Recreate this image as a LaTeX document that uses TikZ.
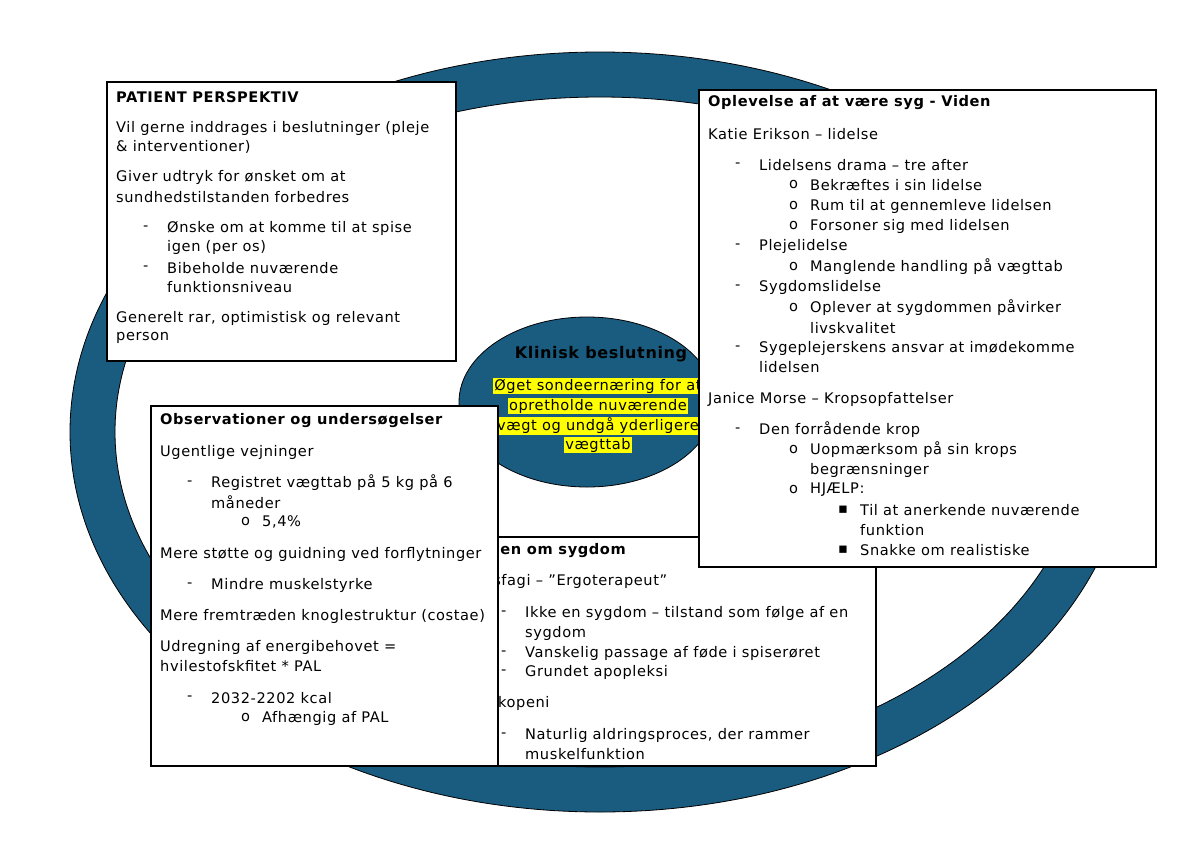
\documentclass[tikz,border=0pt]{standalone}
\usepackage{fontspec}
\setmainfont{DejaVu Sans}[LetterSpace=4]
\definecolor{ringblue}{RGB}{26,92,128}
\definecolor{hl}{RGB}{255,255,0}
\tikzset{
  t/.style={anchor=west,inner sep=0pt,font=\fontsize{14.6}{17}\selectfont},
  tb/.style={t,font=\fontsize{14.6}{17}\selectfont\bfseries},
  box/.style={draw=black,line width=1.6pt,fill=white},
  hlt/.style={fill=hl,inner sep=1pt,font=\fontsize{14.6}{17}\selectfont,anchor=center}
}
\newcommand{\Ln}[3]{\node[t] at (#1,#2) {#3};}
\newcommand{\Dh}[3]{\node[t] at (#1,#2) {-}; \node[t] at (#1+24,#2) {#3};}
\newcommand{\Oh}[3]{\node[t] at (#1,#2) {o}; \node[t] at (#1+21,#2) {#3};}
\newcommand{\Sq}[3]{\node[t] at (#1,#2) {▪}; \node[t] at (#1+22,#2) {#3};}
\begin{document}
\begin{tikzpicture}[x=1pt,y=-1pt]
\useasboundingbox (0,0) rectangle (1200,849);
% ring
\fill[ringblue,draw=black,line width=0.8pt,even odd rule] (600,432) ellipse [x radius=530,y radius=380] (600,432) ellipse [x radius=485,y radius=335];
% central ellipse
\fill[ringblue,draw=black,line width=0.8pt] (587,402) ellipse [x radius=128,y radius=85];
\node[tb,anchor=center,font=\fontsize{16}{18}\selectfont\bfseries] (kb) at (601,354) {Klinisk beslutning};
\node[hlt] (h1) at (598,386) {Øget sondeernæring for at};
\node[hlt] (h2) at (598,406) {opretholde nuværende};
\node[hlt] (h3) at (598,426) {vægt og undgå yderligere};
\node[hlt] (h4) at (598,445) {vægttab};
% bottom box
\node[box,minimum width=409,minimum height=229,anchor=north west,inner sep=0pt] (vb) at (466,536) {};
\node[tb] at (472,551) {Viden om sygdom};
\Ln{472}{581}{Dysfagi – ”Ergoterapeut”}
\Dh{501}{613}{Ikke en sygdom – tilstand som følge af en}
\Ln{525}{633}{sygdom}
\Dh{501}{653}{Vanskelig passage af føde i spiserøret}
\Dh{501}{672}{Grundet apopleksi}
\Ln{472}{703}{Sarkopeni}
\Dh{501}{735}{Naturlig aldringsproces, der rammer}
\Ln{525}{754}{muskelfunktion}
% observation box
\node[box,minimum width=347,minimum height=360,anchor=north west,inner sep=0pt] (ob) at (150,405) {};
\node[tb] at (160,421) {Observationer og undersøgelser};
\Ln{160}{452}{Ugentlige vejninger}
\Dh{187}{483}{Registret vægttab på 5 kg på 6}
\Ln{211}{502}{måneder}
\Oh{241}{522}{5,4\%}
\Ln{160}{554}{Mere støtte og guidning ved forflytninger}
\Dh{187}{585}{Mindre muskelstyrke}
\Ln{160}{616}{Mere fremtræden knoglestruktur (costae)}
\Ln{160}{647}{Udregning af energibehovet =}
\Ln{160}{666}{hvilestofskfitet * PAL}
\Dh{187}{698}{2032-2202 kcal}
\Oh{241}{718}{Afhængig af PAL}
% patient box
\node[box,minimum width=349,minimum height=279,anchor=north west,inner sep=0pt] (pb) at (106,81) {};
\node[tb] at (116,97) {PATIENT PERSPEKTIV};
\Ln{116}{128}{Vil gerne inddrages i beslutninger (pleje}
\Ln{116}{147}{\& interventioner)}
\Ln{116}{177}{Giver udtryk for ønsket om at}
\Ln{116}{197}{sundhedstilstanden forbedres}
\Dh{143}{228}{Ønske om at komme til at spise}
\Ln{167}{247}{igen (per os)}
\Dh{143}{268}{Bibeholde nuværende}
\Ln{167}{287}{funktionsniveau}
\Ln{116}{318}{Generelt rar, optimistisk og relevant}
\Ln{116}{338}{person}
% oplevelse box
\node[box,minimum width=457,minimum height=477,anchor=north west,inner sep=0pt] (opb) at (698,89) {};
\node[tb] at (708,103) {Oplevelse af at være syg - Viden};
\Ln{708}{134}{Katie Erikson – lidelse}
\Dh{735}{165}{Lidelsens drama – tre after}
\Oh{789}{185}{Bekræftes i sin lidelse}
\Oh{789}{206}{Rum til at gennemleve lidelsen}
\Oh{789}{226}{Forsoner sig med lidelsen}
\Dh{735}{246}{Plejelidelse}
\Oh{789}{267}{Manglende handling på vægttab}
\Dh{735}{287}{Sygdomslidelse}
\Oh{789}{308}{Oplever at sygdommen påvirker}
\Ln{810}{328}{livskvalitet}
\Dh{735}{348}{Sygeplejerskens ansvar at imødekomme}
\Ln{759}{367}{lidelsen}
\Ln{708}{399}{Janice Morse – Kropsopfattelser}
\Dh{735}{430}{Den forrådende krop}
\Oh{789}{450}{Uopmærksom på sin krops}
\Ln{810}{470}{begrænsninger}
\Oh{789}{490}{HJÆLP:}
\Sq{838}{510}{Til at anerkende nuværende}
\Ln{860}{530}{funktion}
\Sq{838}{550}{Snakke om realistiske}
\end{tikzpicture}
\end{document}
